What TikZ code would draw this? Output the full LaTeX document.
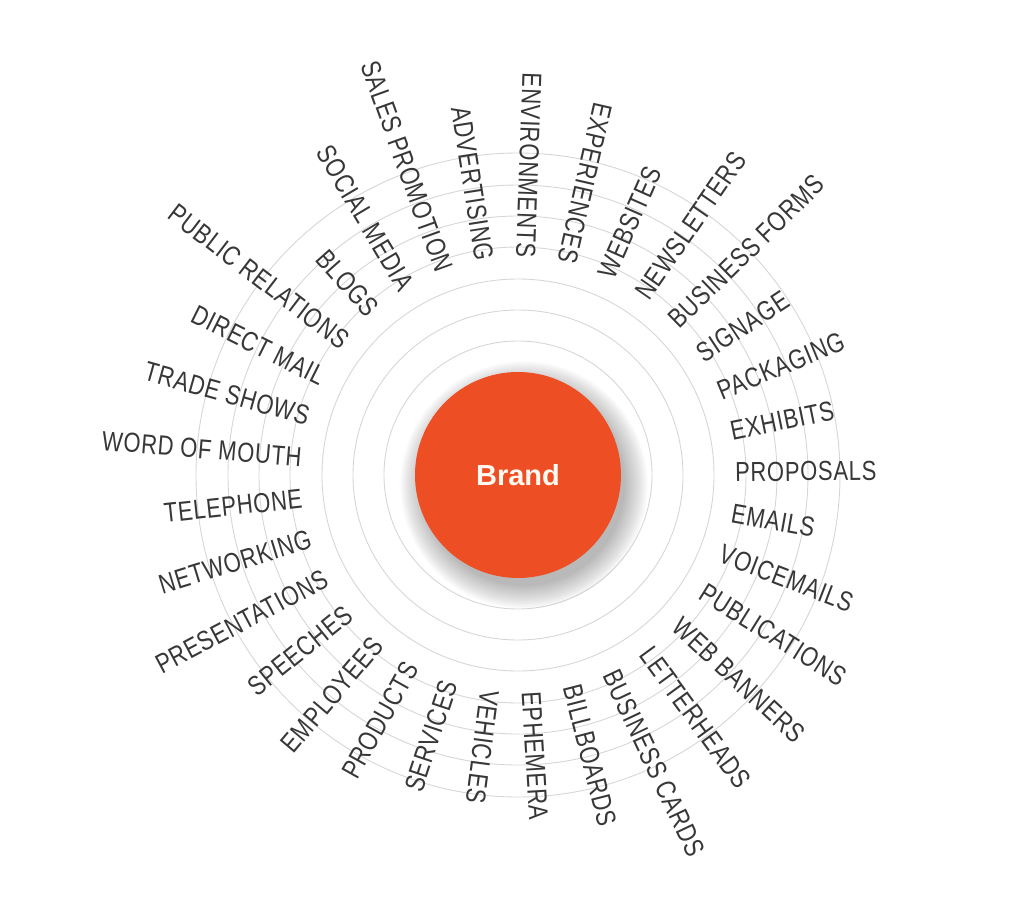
\documentclass[tikz,border=0pt]{standalone}
\usepackage{fontspec}
\usepackage{tikz}
\usetikzlibrary{shapes,positioning}
\setmainfont{Liberation Sans}
\newfontfamily\lblfont[FakeStretch=0.8,LetterSpace=2.5]{Liberation Sans}

\definecolor{brandorange}{RGB}{238,78,36}
\definecolor{ringgray}{RGB}{214,214,214}
\definecolor{lblgray}{RGB}{55,55,55}

\tikzset{
    ring/.style={draw=ringgray,line width=0.9pt},
    lbl/.style={inner sep=0pt,text=lblgray,font=\lblfont\fontsize{27.5}{27.5}\selectfont},
    core/.style={circle,fill=brandorange,minimum size=206pt,inner sep=0pt,
        text=white!95!orange,font=\bfseries\fontsize{29}{29}\selectfont}
}

\begin{document}
\begin{tikzpicture}
    \useasboundingbox (-518pt,-441pt) rectangle (506pt,475pt);
    \xdef\N{33}
    \xdef\R{217pt}
    \xdef\deltadegree{360/\N}

    % rings
    \foreach \r in {134,165,196,228,259,290,322}
        \draw[ring] (0,0) circle [radius=\r pt];

    % soft shadow
    \foreach \k in {0,...,15}
        \fill[black,opacity=0.02] (6pt,-10pt) circle [radius=101pt+1.5pt*\k];

    \node (brand) [core] at (0,0) {Brand};

    % labels, clockwise from the top
    \foreach \t [count=\i from 0] in {ENVIRONMENTS,EXPERIENCES,WEBSITES,NEWSLETTERS,
        BUSINESS FORMS,SIGNAGE,PACKAGING,EXHIBITS,PROPOSALS,EMAILS,VOICEMAILS,
        PUBLICATIONS,WEB BANNERS,LETTERHEADS,BUSINESS CARDS,BILLBOARDS,EPHEMERA,
        VEHICLES,SERVICES,PRODUCTS,EMPLOYEES,SPEECHES,PRESENTATIONS,NETWORKING,
        TELEPHONE,WORD OF MOUTH,TRADE SHOWS,DIRECT MAIL,PUBLIC RELATIONS,BLOGS,
        SOCIAL MEDIA,SALES PROMOTION,ADVERTISING} {
        \pgfmathsetmacro{\a}{88-\i*\deltadegree}
        \ifnum\i<2
            \node (l\i) [lbl,anchor=east,rotate=\a+180] at (\a:\R) {\t};
        \else\ifnum\i<18
            \node (l\i) [lbl,anchor=west,rotate=\a] at (\a:\R) {\t};
        \else
            \node (l\i) [lbl,anchor=east,rotate=\a+180] at (\a:\R) {\t};
        \fi\fi
    }
\end{tikzpicture}
\end{document}
